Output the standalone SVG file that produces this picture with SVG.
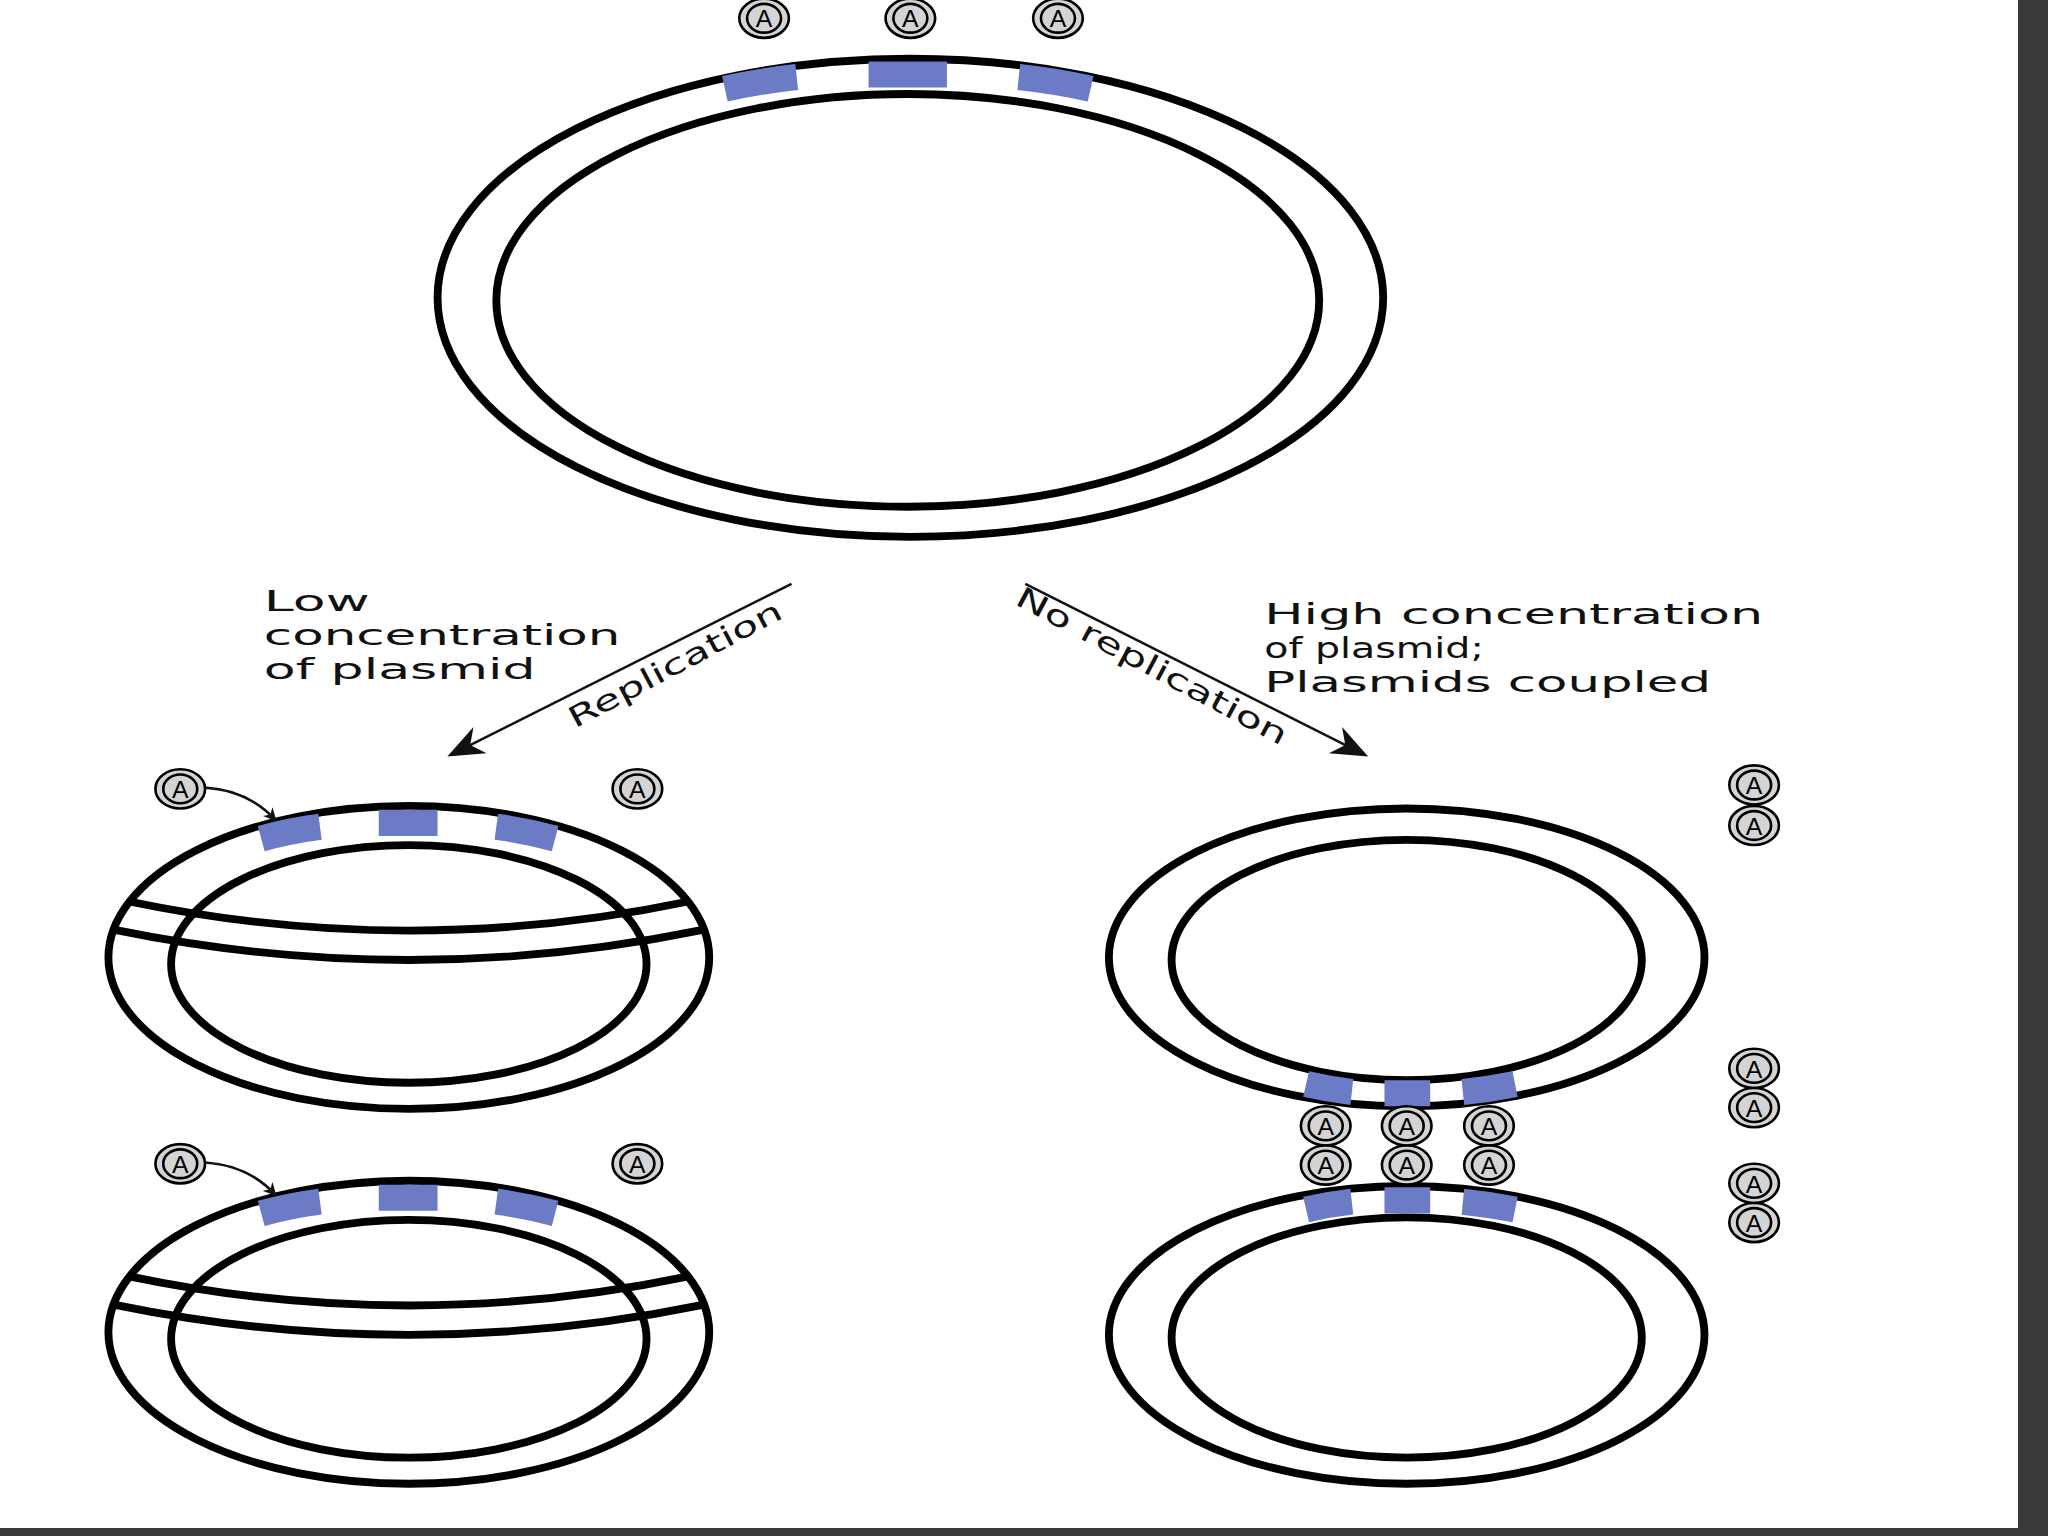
<svg xmlns="http://www.w3.org/2000/svg" width="2048" height="1536" viewBox="0 0 2048 1536">
<style>
.r{fill:none;stroke:#000;stroke-width:6}
.b{fill:none;stroke:#6b7bc6;stroke-width:20}
.a ellipse{fill:#d4d4d4;stroke:#000;stroke-width:2}
.a text{font-family:"Liberation Sans",Arial,sans-serif;font-size:19px;text-anchor:middle}
.t{font-family:"DejaVu Sans",sans-serif;font-size:22px;fill:#111}
.c{stroke:#111;stroke-width:2;fill:none}
</style>
<defs>
<marker id="ah" viewBox="0 0 10 10" refX="9" refY="5" markerWidth="10" markerHeight="10" orient="auto" markerUnits="userSpaceOnUse"><path d="M0,0L10,5L0,10L3,5Z" fill="#111"/></marker>
<marker id="ah2" viewBox="0 0 10 10" refX="9" refY="5" markerWidth="28" markerHeight="28" orient="auto" markerUnits="userSpaceOnUse"><path d="M0,1L10,5L0,9L3,5Z" fill="#111"/></marker>
<g id="A" class="a"><ellipse cx="0" cy="0" rx="19" ry="15"/><ellipse cx="0" cy="0" rx="13" ry="11" fill="none"/><text x="0" y="7">A</text></g>
</defs>
<rect width="2048" height="1536" fill="#fff"/>
<rect x="2018" y="0" width="30" height="1536" fill="#3a3a3a"/>
<rect x="0" y="1528" width="2048" height="8" fill="#3a3a3a"/>
<g transform="scale(1.30612)">
<g id="top">
<ellipse class="r" cx="697" cy="228" rx="362" ry="183"/>
<ellipse class="r" cx="695" cy="230" rx="315" ry="158"/>
<path class="b" d="M555,68 Q582,62 610,59 M665,57 L725,57 M780,59 Q808,62 835,68"/>
<use href="#A" x="585" y="14"/><use href="#A" x="697" y="14"/><use href="#A" x="810" y="14"/>
</g>
<g id="conn">
<line class="c" x1="606" y1="447" x2="345" y2="578" marker-end="url(#ah2)"/>
<line class="c" x1="785" y1="447" x2="1045" y2="578" marker-end="url(#ah2)"/>
<text class="t" transform="translate(440,558) rotate(-28)" textLength="182" lengthAdjust="spacingAndGlyphs">Replication</text>
<text class="t" transform="translate(776,462) rotate(28)" textLength="232" lengthAdjust="spacingAndGlyphs">No replication</text>
</g>
<g id="lowtext" class="t"><text x="202" y="468" textLength="81" lengthAdjust="spacingAndGlyphs">Low</text><text x="202" y="494" textLength="273" lengthAdjust="spacingAndGlyphs">concentration</text><text x="202" y="520" textLength="208" lengthAdjust="spacingAndGlyphs">of plasmid</text></g>
<g id="hightext" class="t"><text x="968" y="478" textLength="382" lengthAdjust="spacingAndGlyphs">High concentration</text><text x="968" y="504" textLength="168" lengthAdjust="spacingAndGlyphs">of plasmid;</text><text x="968" y="530" textLength="342" lengthAdjust="spacingAndGlyphs">Plasmids coupled</text></g>
<g id="left1">
<ellipse class="r" cx="313" cy="733" rx="230" ry="116"/>
<ellipse class="r" cx="313" cy="738" rx="182" ry="91"/>
<path class="r" d="M98,690 Q313,735 528,690"/><path class="r" d="M88,712 Q313,758 538,712"/>
<path class="b" d="M200,642 Q222,636 245,633 M290,630 L335,630 M380,633 Q402,636 425,642"/>
<use href="#A" x="138" y="604"/><use href="#A" x="488" y="604"/>
<path class="c" d="M157,603 Q190,605 211,628" marker-end="url(#ah)"/>
</g>
<g id="left2">
<ellipse class="r" cx="313" cy="1020" rx="230" ry="116"/>
<ellipse class="r" cx="313" cy="1025" rx="182" ry="91"/>
<path class="r" d="M98,977 Q313,1022 528,977"/><path class="r" d="M88,999 Q313,1045 538,999"/>
<path class="b" d="M200,929 Q222,923 245,920 M290,917 L335,917 M380,920 Q402,923 425,929"/>
<use href="#A" x="138" y="891"/><use href="#A" x="488" y="891"/>
<path class="c" d="M157,890 Q190,892 211,915" marker-end="url(#ah)"/>
</g>
<g id="right1">
<ellipse class="r" cx="1077" cy="733" rx="228" ry="114"/>
<ellipse class="r" cx="1077" cy="735" rx="180" ry="92"/>
<path class="b" d="M1000,830 Q1017,834 1035,836 M1060,837 L1095,837 M1120,836 Q1140,834 1160,830"/>
</g>
<g id="right2">
<ellipse class="r" cx="1077" cy="1022" rx="228" ry="114"/>
<ellipse class="r" cx="1077" cy="1024" rx="180" ry="92"/>
<path class="b" d="M1000,926 Q1017,922 1035,920 M1060,919 L1095,919 M1120,920 Q1140,922 1160,926"/>
</g>
<g id="As">
<use href="#A" x="1015" y="862"/><use href="#A" x="1077" y="862"/><use href="#A" x="1140" y="862"/>
<use href="#A" x="1015" y="892"/><use href="#A" x="1077" y="892"/><use href="#A" x="1140" y="892"/>
<use href="#A" x="1343" y="601"/><use href="#A" x="1343" y="632"/>
<use href="#A" x="1343" y="818"/><use href="#A" x="1343" y="848"/>
<use href="#A" x="1343" y="906"/><use href="#A" x="1343" y="936"/>
</g>
</g>
</svg>
